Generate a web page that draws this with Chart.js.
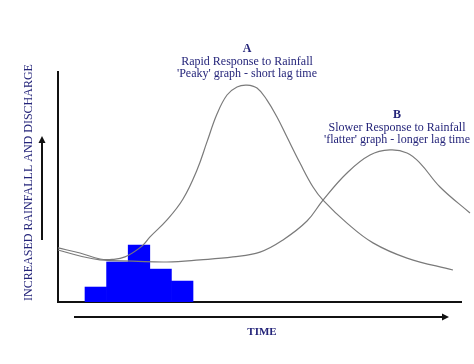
<!DOCTYPE html>
<html>
<head>
<meta charset="utf-8">
<script src="https://cdn.jsdelivr.net/npm/chart.js@4/dist/chart.umd.min.js"></script>
<style>
  html, body { margin: 0; padding: 0; background: #ffffff; }
  #wrap { width: 474px; height: 364px; position: relative; }
</style>
</head>
<body>
<div id="wrap"><canvas id="c" width="474" height="364"></canvas></div>
<script>
// ---- data (time 0-100, relative rainfall / discharge 0-100) ----
const timeA = [0, 5.46, 10.42, 13.4, 16.63, 20.84, 22.83, 27.05, 31.02, 34.49, 36.97, 39.45, 41.94, 44.42, 46.9, 49.38, 51.86, 54.34, 56.82, 60.05, 63.28, 65.76, 71.71, 78.16, 86.6, 98.01];
const dischargeA = [23.5, 21.3, 18.7, 18.5, 19.6, 24.3, 28.3, 35.7, 44.8, 57.4, 69.6, 81.7, 90.0, 93.5, 94.3, 93.0, 87.8, 80.4, 71.7, 60.4, 50.0, 44.3, 34.3, 25.7, 19.1, 13.9];
const timeB = [0, 5.46, 10.42, 18.61, 27.05, 35.24, 43.42, 50.12, 55.83, 61.79, 65.76, 71.71, 77.42, 82.38, 86.6, 89.83, 94.79, 102.23];
const dischargeB = [22.6, 20.0, 18.3, 17.8, 17.4, 18.3, 19.6, 21.7, 27.0, 35.2, 44.3, 56.1, 63.9, 66.1, 64.8, 60.4, 50.0, 38.7];
const rainTime = [9.38, 14.74, 20.10, 25.46, 30.82];
const rainfall = [6.5, 17.4, 24.8, 14.3, 9.1];

const labelA = ["A", "Rapid Response to Rainfall", "'Peaky' graph - short lag time"];
const labelB = ["B", "Slower Response to Rainfall", "'flatter' graph - longer lag time"];
const yTitle = "INCREASED RAINFALLL AND DISCHARGE";
const xTitle = "TIME";

const toXY = (xs, ys) => xs.map((x, i) => ({ x: x, y: ys[i] }));

const TEXT = '#25257a';
const SERIF = '"Liberation Serif", "Times New Roman", serif';

const decor = {
  id: 'decor',
  afterDraw(chart) {
    const ctx = chart.ctx;
    ctx.save();
    ctx.fillStyle = TEXT;
    ctx.textAlign = 'center';
    ctx.textBaseline = 'alphabetic';
    const ax = 247, bx = 397;
    const aBase = [52, 65, 77];
    labelA.forEach((t, i) => {
      ctx.font = (i === 0 ? 'bold ' : '') + '12px ' + SERIF;
      ctx.fillText(t, ax, aBase[i]);
    });
    const bBase = [118, 131, 143];
    labelB.forEach((t, i) => {
      ctx.font = (i === 0 ? 'bold ' : '') + '12px ' + SERIF;
      ctx.fillText(t, bx, bBase[i]);
    });
    ctx.font = 'bold 11px ' + SERIF;
    ctx.fillText(xTitle, 262, 335);
    ctx.font = '12px ' + SERIF;
    ctx.save();
    ctx.translate(32, 182.5);
    ctx.rotate(-Math.PI / 2);
    ctx.fillText(yTitle, 0, 0);
    ctx.restore();

    // arrows
    ctx.strokeStyle = '#111';
    ctx.fillStyle = '#111';
    ctx.lineWidth = 2;
    ctx.beginPath();
    ctx.moveTo(42, 240);
    ctx.lineTo(42, 142);
    ctx.stroke();
    ctx.beginPath();
    ctx.moveTo(42, 136);
    ctx.lineTo(38.5, 143);
    ctx.lineTo(45.5, 143);
    ctx.closePath();
    ctx.fill();
    ctx.beginPath();
    ctx.moveTo(74, 317);
    ctx.lineTo(443, 317);
    ctx.stroke();
    ctx.beginPath();
    ctx.moveTo(449, 317);
    ctx.lineTo(442, 313.5);
    ctx.lineTo(442, 320.5);
    ctx.closePath();
    ctx.fill();
    ctx.restore();
  }
};

new Chart(document.getElementById('c'), {
  type: 'line',
  data: {
    datasets: [
      {
        type: 'line',
        label: 'A',
        data: toXY(timeA, dischargeA),
        borderColor: '#7a7a7a',
        borderWidth: 1.2,
        pointRadius: 0,
        tension: 0.4,
        fill: false,
        clip: false,
        order: 1
      },
      {
        type: 'line',
        label: 'B',
        data: toXY(timeB, dischargeB),
        borderColor: '#7a7a7a',
        borderWidth: 1.2,
        pointRadius: 0,
        tension: 0.4,
        fill: false,
        clip: false,
        order: 1
      },
      {
        type: 'bar',
        label: 'Rainfall',
        data: toXY(rainTime, rainfall),
        backgroundColor: '#0000ff',
        borderWidth: 0,
        barPercentage: 1,
        categoryPercentage: 1,
        order: 2
      }
    ]
  },
  options: {
    responsive: false,
    animation: false,
    events: [],
    layout: { autoPadding: false, padding: { left: 58, top: 72, right: 13, bottom: 62 } },
    plugins: { legend: { display: false }, tooltip: { enabled: false }, title: { display: false } },
    scales: {
      x: {
        type: 'linear', min: 0, max: 100, offset: false,
        ticks: { display: false, stepSize: 25 },
        grid: { display: false, drawTicks: false },
        border: { display: true, color: '#111', width: 2 }
      },
      y: {
        type: 'linear', min: 0, max: 100,
        ticks: { display: false, stepSize: 25 },
        grid: { display: false, drawTicks: false },
        border: { display: true, color: '#111', width: 2 }
      }
    }
  },
  plugins: [decor]
});
</script>
</body>
</html>
